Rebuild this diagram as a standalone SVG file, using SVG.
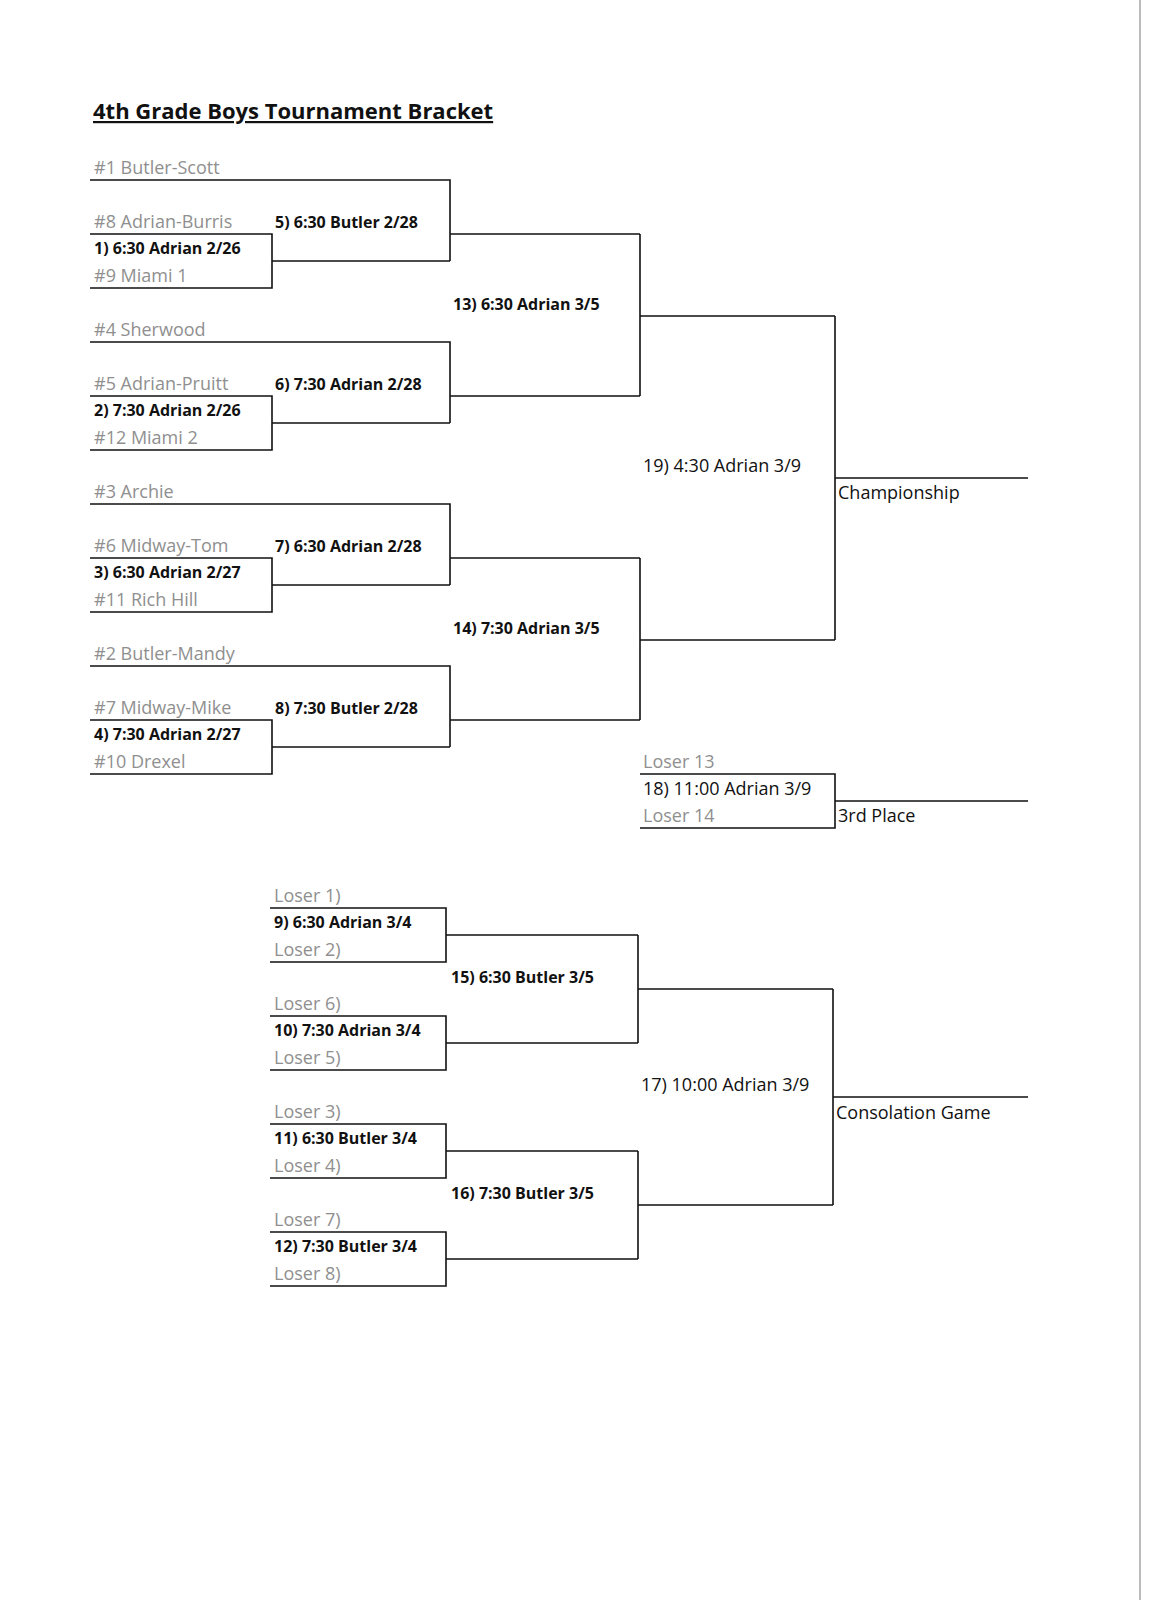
<svg xmlns="http://www.w3.org/2000/svg" width="1163" height="1600" viewBox="0 0 1163 1600">
<style>
text{font-family:"Open Sans","Liberation Sans",sans-serif;font-size:18px}
.t{fill:#8f8f8f}
.b{font-weight:bold;fill:#111;font-size:16px}
.n{fill:#111}
.h{font-weight:bold;font-size:22px;fill:#111;text-decoration:underline}
#lines path{stroke:#111;stroke-width:1.6;fill:none}
</style>
<rect width="1163" height="1600" fill="#fff"/>
<line x1="1140" y1="0" x2="1140" y2="1600" stroke="#bbb" stroke-width="2"/>
<text class="h" x="93" y="119">4th Grade Boys Tournament Bracket</text>
<g id="lines">
<path d="M90 180H450V261M90 234H272V288H90M272 261H450M450 234H640"/>
<path d="M90 342H450V423M90 396H272V450H90M272 423H450M450 396H640"/>
<path d="M640 234V396M640 316H835"/>
<path d="M90 504H450V585M90 558H272V612H90M272 585H450M450 558H640"/>
<path d="M90 666H450V747M90 720H272V774H90M272 747H450M450 720H640"/>
<path d="M640 558V720M640 640H835M835 316V640M835 478H1028"/>
<path d="M640 774H835V828H640M835 801H1028"/>
<path d="M270 908H446V962H270M446 935H638M270 1016H446V1070H270M446 1043H638M638 935V1043M638 989H833"/>
<path d="M270 1124H446V1178H270M446 1151H638M270 1232H446V1286H270M446 1259H638M638 1151V1259M638 1205H833"/>
<path d="M833 989V1205M833 1097H1028"/>
</g>
<g id="n1"><text class="t" x="94" y="174">#1 Butler-Scott</text><text class="t" x="94" y="228">#8 Adrian-Burris</text><text class="b" x="94" y="254">1) 6:30 Adrian 2/26</text><text class="t" x="94" y="282">#9 Miami 1</text><text class="b" x="275" y="228">5) 6:30 Butler 2/28</text></g>
<g id="n2"><text class="t" x="94" y="336">#4 Sherwood</text><text class="t" x="94" y="390">#5 Adrian-Pruitt</text><text class="b" x="94" y="416">2) 7:30 Adrian 2/26</text><text class="t" x="94" y="444">#12 Miami 2</text><text class="b" x="275" y="390">6) 7:30 Adrian 2/28</text></g>
<g id="n3"><text class="b" x="453" y="310">13) 6:30 Adrian 3/5</text><text class="b" x="453" y="634">14) 7:30 Adrian 3/5</text></g>
<g id="n4"><text class="t" x="94" y="498">#3 Archie</text><text class="t" x="94" y="552">#6 Midway-Tom</text><text class="b" x="94" y="578">3) 6:30 Adrian 2/27</text><text class="t" x="94" y="606">#11 Rich Hill</text><text class="b" x="275" y="552">7) 6:30 Adrian 2/28</text></g>
<g id="n5"><text class="t" x="94" y="660">#2 Butler-Mandy</text><text class="t" x="94" y="714">#7 Midway-Mike</text><text class="b" x="94" y="740">4) 7:30 Adrian 2/27</text><text class="t" x="94" y="768">#10 Drexel</text><text class="b" x="275" y="714">8) 7:30 Butler 2/28</text></g>
<g id="n6"><text class="n" x="643" y="472">19) 4:30 Adrian 3/9</text><text class="n" x="838" y="499">Championship</text></g>
<g id="n7"><text class="t" x="643" y="768">Loser 13</text><text class="n" x="643" y="795">18) 11:00 Adrian 3/9</text><text class="t" x="643" y="822">Loser 14</text><text class="n" x="838" y="822">3rd Place</text></g>
<g id="n8"><text class="t" x="274" y="902">Loser 1)</text><text class="b" x="274" y="928">9) 6:30 Adrian 3/4</text><text class="t" x="274" y="956">Loser 2)</text>
<text class="t" x="274" y="1010">Loser 6)</text><text class="b" x="274" y="1036">10) 7:30 Adrian 3/4</text><text class="t" x="274" y="1064">Loser 5)</text><text class="b" x="451" y="983">15) 6:30 Butler 3/5</text></g>
<g id="n9"><text class="t" x="274" y="1118">Loser 3)</text><text class="b" x="274" y="1144">11) 6:30 Butler 3/4</text><text class="t" x="274" y="1172">Loser 4)</text>
<text class="t" x="274" y="1226">Loser 7)</text><text class="b" x="274" y="1252">12) 7:30 Butler 3/4</text><text class="t" x="274" y="1280">Loser 8)</text><text class="b" x="451" y="1199">16) 7:30 Butler 3/5</text></g>
<g id="n10"><text class="n" x="641" y="1091">17) 10:00 Adrian 3/9</text><text class="n" x="836" y="1119">Consolation Game</text></g>
</svg>
